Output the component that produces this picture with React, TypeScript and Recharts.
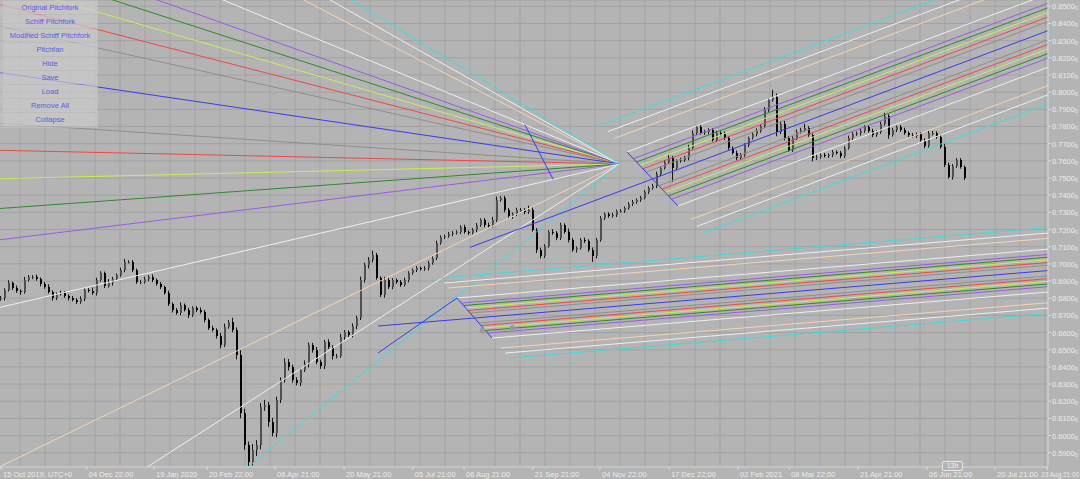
import React from "react";
import {
  ComposedChart,
  Bar,
  XAxis,
  YAxis,
  CartesianGrid,
  ReferenceLine,
  ReferenceDot,
} from "recharts";

// 13h candles, one every 4 px (bar index on the x axis)
const closes = [
  0.6801, 0.6848, 0.6889, 0.686, 0.6842, 0.6836, 0.6906, 0.6924, 0.6924, 0.6912, 0.6883, 0.6865, 0.6836, 0.6801, 0.6825, 0.683, 0.6813, 0.6801, 0.679, 0.6778,
  0.6796, 0.6848, 0.6842, 0.683, 0.6906, 0.6947, 0.6871, 0.6889, 0.6912, 0.6935, 0.6964, 0.7011, 0.7011, 0.6964, 0.6894, 0.6894, 0.6912, 0.6924, 0.6906, 0.6883,
  0.6865, 0.683, 0.6766, 0.6731, 0.6714, 0.676, 0.6731, 0.6702, 0.6743, 0.6731, 0.672, 0.6673, 0.6626, 0.6615, 0.658, 0.6527, 0.6632, 0.6661, 0.6615, 0.6469,
  0.6131, 0.5945, 0.5846, 0.5916, 0.5945, 0.6166, 0.6178, 0.6079, 0.6015, 0.6207, 0.6324, 0.6428, 0.6399, 0.6324, 0.6306, 0.6382, 0.6417, 0.6527, 0.6498, 0.6428,
  0.6405, 0.6545, 0.6516, 0.6463, 0.6463, 0.6574, 0.6603, 0.6586, 0.6638, 0.6685, 0.6906, 0.6993, 0.7023, 0.7052, 0.6918, 0.6819, 0.6906, 0.6865, 0.6906, 0.6894,
  0.6877, 0.6906, 0.6947, 0.6964, 0.6976, 0.697, 0.6976, 0.7005, 0.7034, 0.7121, 0.7156, 0.7162, 0.7174, 0.718, 0.7186, 0.7215, 0.7186, 0.718, 0.7197, 0.7226,
  0.7256, 0.7226, 0.7221, 0.7256, 0.7372, 0.7384, 0.7314, 0.7279, 0.729, 0.7314, 0.7314, 0.7302, 0.7314, 0.7197, 0.7081, 0.7046, 0.7104, 0.7186, 0.718, 0.7151,
  0.7226, 0.7186, 0.7139, 0.7081, 0.7092, 0.7139, 0.7133, 0.7081, 0.7046, 0.7139, 0.7267, 0.729, 0.7279, 0.7285, 0.7308, 0.7308, 0.7325, 0.7349, 0.736, 0.7372,
  0.7384, 0.7419, 0.7442, 0.7454, 0.7523, 0.7558, 0.7593, 0.7617, 0.7558, 0.7599, 0.7605, 0.7617, 0.7675, 0.7762, 0.7797, 0.7762, 0.7768, 0.778, 0.7721, 0.7762,
  0.7756, 0.7733, 0.7675, 0.7646, 0.7617, 0.7634, 0.7692, 0.7733, 0.7756, 0.7774, 0.7803, 0.7896, 0.7954, 0.7972, 0.7768, 0.7815, 0.7733, 0.7663, 0.7733, 0.7768,
  0.778, 0.7791, 0.775, 0.7617, 0.7623, 0.7634, 0.7628, 0.7634, 0.7652, 0.7646, 0.7628, 0.7675, 0.7733, 0.7756, 0.7762, 0.7774, 0.7797, 0.7774, 0.775, 0.7768,
  0.7815, 0.7861, 0.775, 0.778, 0.7797, 0.778, 0.7762, 0.775, 0.7745, 0.7756, 0.7721, 0.7686, 0.7762, 0.7762, 0.7739, 0.7681, 0.7576, 0.7506, 0.757, 0.7605,
  0.7564, 0.75,
];

// wick lengths above / below the body, in pips
const wickUp = [
  12, 10, 15, 8, 14, 9, 18, 11, 10, 13, 9, 12, 16, 10, 8, 14, 11, 9, 12, 10,
  15, 9, 11, 20, 13, 10, 8, 22, 12, 9, 14, 18, 10, 11, 9, 12, 13, 10, 15, 9,
  11, 8, 14, 10, 12, 16, 9, 13, 10, 11, 15, 12, 9, 14, 10, 18, 20, 12, 25, 15,
  30, 25, 20, 35, 28, 22, 30, 18, 25, 20, 15, 22, 18, 14, 16, 12, 20, 15, 13, 18,
  14, 12, 16, 10, 13, 18, 11, 9, 15, 12, 20, 14, 16, 25, 12, 10, 18, 13, 11, 9,
  12, 14, 10, 9, 11, 8, 10, 12, 9, 14, 10, 8, 12, 11, 9, 10, 13, 8, 11, 12,
  9, 10, 14, 18, 20, 10, 12, 11, 9, 13, 12, 10, 25, 15, 12, 14, 10, 9, 16, 11,
  13, 10, 20, 12, 9, 11, 14, 10, 15, 12, 11, 9, 10, 12, 8, 11, 9, 10, 12, 9,
  11, 10, 9, 12, 14, 10, 12, 16, 11, 9, 13, 12, 18, 15, 10, 14, 12, 9, 11, 13,
  10, 15, 12, 9, 14, 11, 10, 8, 12, 15, 10, 16, 12, 41, 20, 15, 18, 12, 10, 14,
  12, 25, 11, 10, 14, 9, 12, 10, 11, 9, 12, 10, 14, 11, 9, 12, 10, 11, 13, 9,
  14, 18, 10, 12, 9, 11, 13, 10, 12, 9, 11, 10, 15, 12, 10, 13, 18, 14, 12, 10,
  11, 9,
];
const wickDown = [
  10, 14, 9, 12, 11, 16, 10, 9, 13, 11, 14, 10, 9, 15, 12, 10, 11, 14, 9, 12,
  10, 13, 9, 11, 14, 10, 12, 9, 16, 11, 10, 13, 9, 12, 10, 11, 9, 14, 12, 10,
  12, 9, 11, 14, 10, 13, 9, 18, 11, 12, 10, 14, 11, 9, 15, 20, 12, 10, 14, 25,
  30, 28, 29, 20, 35, 25, 22, 28, 20, 25, 18, 15, 20, 16, 14, 18, 12, 20, 15, 13,
  16, 18, 12, 20, 14, 10, 16, 12, 14, 18, 12, 15, 20, 14, 10, 12, 16, 11, 13, 10,
  11, 9, 13, 10, 12, 9, 11, 14, 10, 12, 9, 11, 10, 13, 9, 12, 10, 11, 9, 12,
  10, 13, 11, 9, 12, 10, 14, 11, 16, 12, 10, 13, 11, 9, 18, 14, 12, 10, 11, 13,
  12, 10, 14, 11, 15, 9, 12, 10, 35, 14, 10, 12, 11, 9, 12, 10, 11, 9, 12, 10,
  11, 9, 12, 10, 13, 11, 9, 12, 80, 12, 10, 11, 14, 9, 12, 10, 11, 13, 9, 12,
  10, 12, 11, 9, 14, 12, 10, 11, 9, 13, 10, 12, 11, 10, 25, 12, 14, 10, 11, 12,
  9, 11, 10, 20, 12, 10, 9, 11, 12, 10, 13, 11, 9, 12, 10, 14, 11, 9, 12, 10,
  11, 10, 22, 9, 12, 11, 10, 13, 9, 11, 10, 12, 9, 14, 11, 10, 12, 9, 15, 11,
  10, 12,
];

const priceTicks = [
  0.59, 0.6, 0.61, 0.62, 0.63, 0.64, 0.65, 0.66, 0.67, 0.68, 0.69, 0.7, 0.71,
  0.72, 0.73, 0.74, 0.75, 0.76, 0.77, 0.78, 0.79, 0.8, 0.81, 0.82, 0.83, 0.84, 0.85,
];

const timeTicks = [0.25, 21.7, 38.5, 51.75, 68.75, 86, 103.2, 116, 133.2, 150, 167.3, 184.5, 197.3, 214.5, 231.75, 248.75, 261.75];
const timeLabels = [
  "15 Oct 2019, UTC+0", "04 Dec 22:00", "19 Jan 2020", "20 Feb 22:00", "06 Apr 21:00",
  "20 May 21:00", "05 Jul 21:00", "06 Aug 21:00", "21 Sep 21:00", "04 Nov 22:00",
  "17 Dec 22:00", "02 Feb 2021", "08 Mar 22:00", "21 Apr 21:00", "06 Jun 21:00",
  "20 Jul 21:00", "23 Aug 21:00",
];

// pivots (bar, price)
const fanApex = { x: 155, y: 0.7582 };
const fanB = { x: 131.2, y: 0.7811 };
const fanC = { x: 138.3, y: 0.7492 };

const fork1A = { x: 117.5, y: 0.7096 };
const fork1B = { x: 156.75, y: 0.7652 };
const fork1C = { x: 169.5, y: 0.7337 };

const fork2A = { x: 94.5, y: 0.6481 };
const fork2Schiff = { x: 94.5, y: 0.6638 };
const fork2B = { x: 114.25, y: 0.6801 };
const fork2C = { x: 123, y: 0.6568 };

const markers = [
  { x: 120.65, y: 0.6611 },
  { x: 128.1, y: 0.6625 },
];

const levels = [0.25, 0.375, 0.5, 0.625, 0.75, 1, 1.5, 1.75, 2];
const levelColors = ["#8e8e8e", "#f04848", "#c6ef58", "#2e8a2e", "#9a5ae6", "#eeeeee", "#f3d4b4", "#eeeeee", "#3ddcdc"];
const BLUE = "#3a3af2";

const menuItems = ["Original Pitchfork", "Schiff Pitchfork", "Modified Schiff Pitchfork", "Pitchfan", "Hide", "Save", "Load", "Remove All", "Collapse"];

const FONT = "'Liberation Sans', Arial, sans-serif";

type Pt = { x: number; y: number };
type Seg = { x1: number; y1: number; x2: number; y2: number; color: string };

function signedLevels() {
  const out: { f: number; color: string }[] = [];
  levels.forEach((f, k) => out.push({ f: -f, color: levelColors[k] }));
  out.push({ f: 0, color: BLUE });
  levels.forEach((f, k) => out.push({ f, color: levelColors[k] }));
  return out;
}

function fanLines(apex: Pt, b: Pt, c: Pt): Seg[] {
  const mid = { x: (b.x + c.x) / 2, y: (b.y + c.y) / 2 };
  const h = { x: (c.x - b.x) / 2, y: (c.y - b.y) / 2 };
  const segs = signedLevels().map(({ f, color }) => {
    const p = { x: mid.x + f * h.x, y: mid.y + f * h.y };
    return { x1: apex.x, y1: apex.y, x2: apex.x + (p.x - apex.x) * 12, y2: apex.y + (p.y - apex.y) * 12, color };
  });
  segs.push({ x1: b.x, y1: b.y, x2: c.x, y2: c.y, color: BLUE });
  return segs;
}

function forkLines(a: Pt, b: Pt, c: Pt, reach: number): Seg[] {
  const mid = { x: (b.x + c.x) / 2, y: (b.y + c.y) / 2 };
  const h = { x: (c.x - b.x) / 2, y: (c.y - b.y) / 2 };
  const d = { x: mid.x - a.x, y: mid.y - a.y };
  const segs: Seg[] = [];
  signedLevels().forEach(({ f, color }) => {
    const s = f === 0 ? a : { x: mid.x + f * h.x, y: mid.y + f * h.y };
    segs.push({ x1: s.x, y1: s.y, x2: s.x + d.x * reach, y2: s.y + d.y * reach, color });
  });
  segs.push({ x1: b.x, y1: b.y, x2: c.x, y2: c.y, color: BLUE });
  return segs;
}

const candles = closes.map((c, i) => {
  const open = i === 0 ? 0.6795 : closes[i - 1];
  return {
    i,
    open,
    close: c,
    high: Math.max(open, c) + wickUp[i] / 10000,
    low: Math.min(open, c) - wickDown[i] / 10000,
  };
});

const segments: Seg[] = [
  ...fanLines(fanApex, fanB, fanC),
  ...forkLines(fork1A, fork1B, fork1C, 5),
  ...forkLines(fork2Schiff, fork2B, fork2C, 9),
  { x1: fork2A.x, y1: fork2A.y, x2: fork2B.x, y2: fork2B.y, color: BLUE },
];

const Candle = (props: any) => {
  const { x, y, width, height, payload } = props;
  if (!payload || x == null) return null;
  const top = Math.min(y, y + height);
  const bot = Math.max(y, y + height);
  const span = payload.high - payload.low || 1e-9;
  const toY = (v: number) => top + ((payload.high - v) / span) * (bot - top);
  const yo = toY(payload.open);
  const yc = toY(payload.close);
  const cx = Math.round(x + width / 2);
  const up = payload.close >= payload.open;
  return (
    <g>
      <line x1={cx + 0.5} x2={cx + 0.5} y1={top} y2={bot} stroke="#141414" strokeWidth={1} />
      <rect
        x={cx}
        y={Math.min(yo, yc)}
        width={2}
        height={Math.max(1, Math.abs(yc - yo))}
        fill={up ? "#505050" : "#050505"}
      />
    </g>
  );
};

const PriceTick = (props: any) => {
  const { x, y, payload } = props;
  return (
    <text x={x} y={y + 3} fill="#ececec" fontSize={7.5} fontFamily={FONT}>
      {payload.value.toFixed(4)}
      <tspan fontSize={5.5} dy={1}>0</tspan>
    </text>
  );
};

const TimeTick = (props: any) => {
  const { x, y, payload } = props;
  const k = timeTicks.indexOf(payload.value);
  const last = k === timeTicks.length - 1;
  return (
    <text
      x={last ? 1079 : x + 2}
      y={y + 7}
      textAnchor={last ? "end" : "start"}
      fill="#ececec"
      fontSize={last ? 6.4 : 7.5}
      fontFamily={FONT}
    >
      {timeLabels[k]}
    </text>
  );
};

const gridXs = Array.from({ length: 42 }, (_, k) => 20 + 25 * k);

export default function App() {
  return (
    <div style={{ position: "absolute", left: 0, top: 0, width: 1080, height: 479, background: "#b4b4b4", overflow: "hidden" }}>
      <ComposedChart width={1080} height={479} data={candles} margin={{ top: 0, right: 0, bottom: 0, left: 0 }}>
        <CartesianGrid stroke="#a2a2a2" verticalPoints={gridXs} />
        <XAxis
          dataKey="i"
          type="number"
          domain={[0, 262]}
          ticks={timeTicks}
          interval={0}
          height={12}
          tick={<TimeTick />}
          tickSize={3}
          tickMargin={0}
          stroke="#dcdcdc"
          allowDataOverflow
        />
        <YAxis
          orientation="right"
          type="number"
          domain={[0.58169, 0.85367]}
          ticks={priceTicks}
          interval={0}
          width={32}
          tick={<PriceTick />}
          tickSize={3}
          tickMargin={1}
          stroke="#dcdcdc"
          allowDataOverflow
        />
        <Bar
          dataKey={(d: any) => [d.low, d.high]}
          barSize={3}
          shape={(p: any) => <Candle {...p} />}
          isAnimationActive={false}
        />
        {segments.map((s, k) => (
          <ReferenceLine
            key={k}
            segment={[{ x: s.x1, y: s.y1 }, { x: s.x2, y: s.y2 }]}
            stroke={s.color}
            strokeWidth={1}
            ifOverflow="hidden"
          />
        ))}
        {markers.map((m, k) => (
          <ReferenceDot key={k} x={m.x} y={m.y} r={3} fill="#9a9a9a" stroke="none" ifOverflow="hidden" />
        ))}
      </ComposedChart>

      <div style={{ position: "absolute", left: 0, top: 0, width: 98, height: 128, background: "rgba(200,200,200,0.45)" }}>
        {menuItems.map((t, k) => (
          <div
            key={t}
            style={{
              position: "absolute",
              left: 3,
              top: 1 + 14 * k,
              width: 94,
              height: 13,
              lineHeight: "13px",
              background: "rgba(206,206,206,0.5)",
              color: "#5c5ce6",
              fontFamily: FONT,
              fontSize: 7.5,
              textAlign: "center",
              whiteSpace: "nowrap",
            }}
          >
            {t}
          </div>
        ))}
      </div>

      <div
        style={{
          position: "absolute",
          left: 942,
          top: 461,
          width: 19,
          height: 8,
          border: "1px solid #e8e8e8",
          borderRadius: 2,
          color: "#f0f0f0",
          fontFamily: FONT,
          fontSize: 7,
          lineHeight: "8px",
          textAlign: "center",
          background: "#b4b4b4",
        }}
      >
        13h
      </div>
    </div>
  );
}
